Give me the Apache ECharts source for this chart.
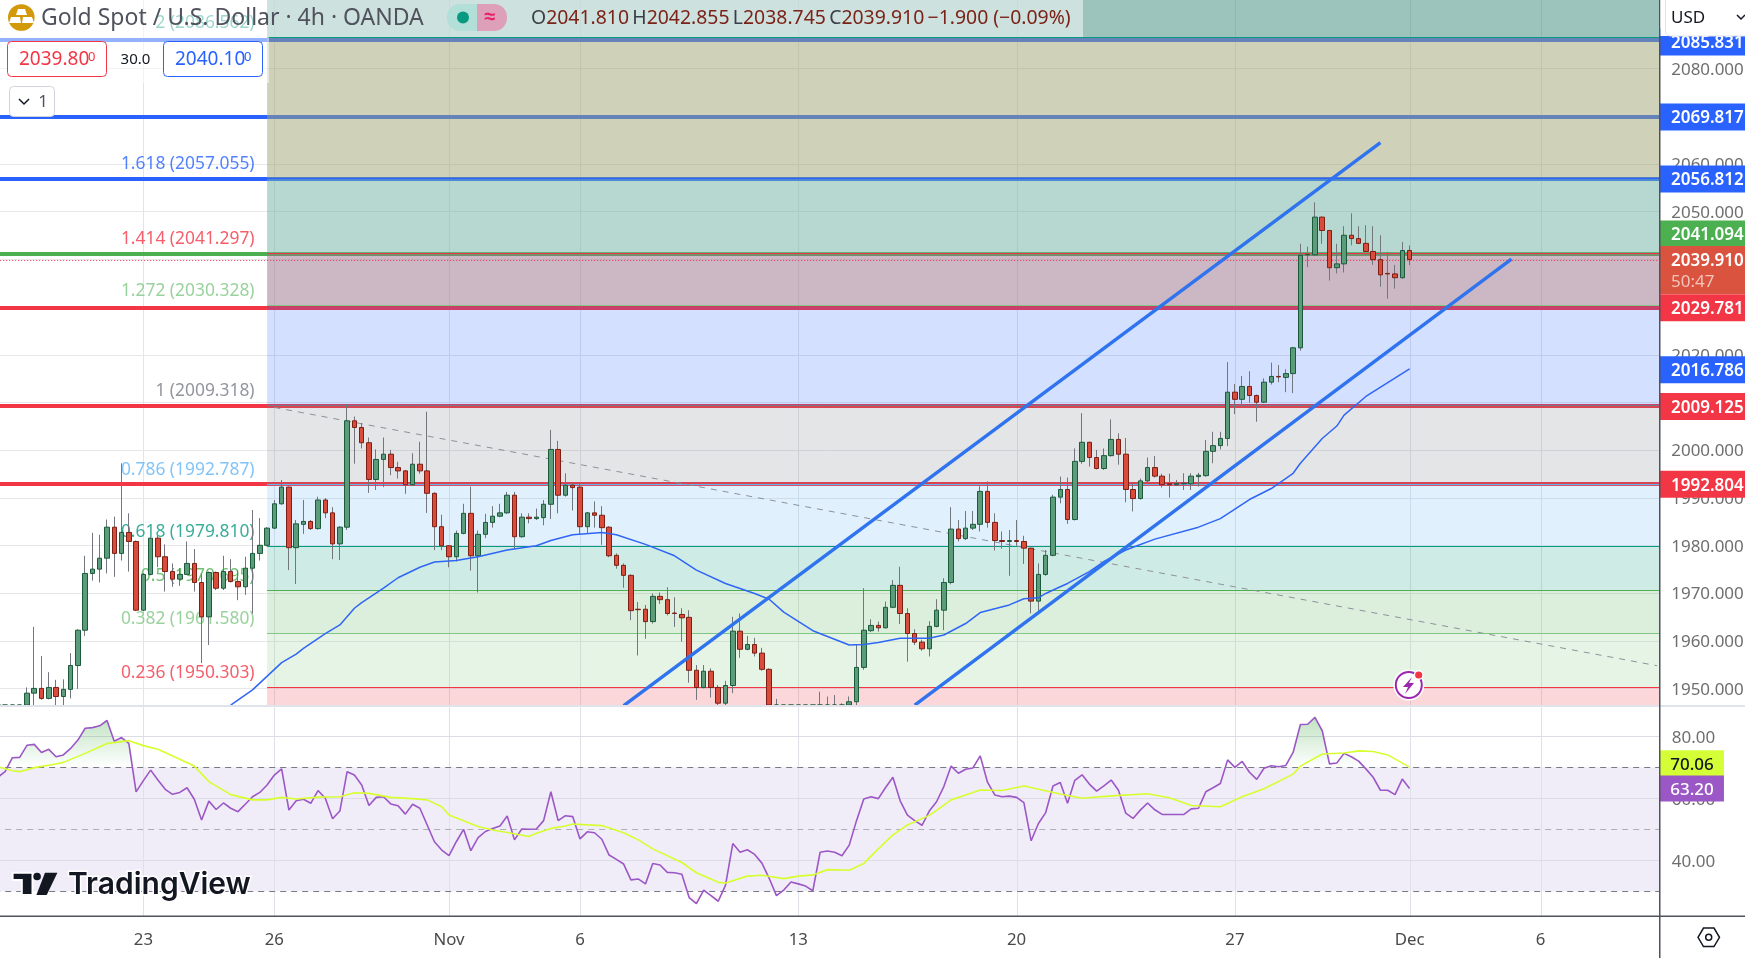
<!DOCTYPE html>
<html>
<head>
<meta charset="utf-8">
<title>Gold Spot / U.S. Dollar</title>
<script src="https://cdn.jsdelivr.net/npm/echarts@6/dist/echarts.min.js"></script>
<style>
html, body { margin: 0; padding: 0; background: #fff; overflow: hidden; }
/* the first bars sit left of the window, so the canvas starts off screen */
#main { width: 1765px; height: 958px; margin-left: -20px; }
</style>
</head>
<body>
<div id="main"></div>
<script>
const barCount = 229;
const tickIdx = [20, 38, 62, 80, 110, 140, 170, 194, 212];
const tickLabels = ['23', '26', 'Nov', '6', '13', '20', '27', 'Dec', '6'];
const priceTicks = [2080, 2060, 2050, 2020, 2000, 1990, 1980, 1970, 1960, 1950];
const priceGrid = [2080, 2070, 2060, 2050, 2040, 2030, 2020, 2010, 2000, 1990, 1980, 1970, 1960, 1950];
const rsiTicks = [80, 60, 40];

const open = [
  1943.5,1944.0,1944.8,1944.4,1945.5,1949.0,1950.0,1947.9,1950.2,1948.3,
  1949.8,1954.8,1962.2,1974.1,1975.0,1977.3,1983.8,1978.3,1982.7,1980.8,
  1966.4,1973.9,1981.5,1977.6,1974.5,1972.9,1973.9,1976.2,1972.2,1965.0,
  1974.3,1971.0,1974.5,1972.4,1971.3,1975.2,1978.3,1980.0,1983.6,1988.7,
  1992.2,1979.5,1984.4,1985.0,1983.5,1989.5,1986.8,1980.3,1983.8,2006.1,
  2004.7,2001.5,1993.8,1998.0,1999.1,1996.3,1995.6,1992.7,1997.0,1995.6,
  1990.9,1983.9,1979.9,1977.6,1982.5,1986.7,1977.8,1982.3,1984.8,1986.1,
  1986.8,1990.5,1981.8,1985.9,1985.6,1985.8,1988.6,2000.1,1990.5,1992.6,
  1992.2,1983.9,1986.8,1986.3,1983.8,1977.9,1975.8,1973.7,1966.6,1966.6,
  1964.0,1969.3,1968.6,1965.8,1965.5,1964.9,1953.8,1950.2,1953.6,1950.2,
  1946.9,1950.6,1962.0,1958.2,1959.2,1957.4,1954.0,1945.0,1944.0,1942.0,
  1943.5,1943.0,1942.5,1941.5,1945.5,1945.8,1945.6,1945.3,1947.2,1954.4,
  1962.1,1963.2,1962.7,1967.0,1971.6,1965.7,1961.5,1959.7,1958.3,1963.0,
  1966.4,1972.2,1983.4,1981.4,1983.6,1984.4,1991.3,1984.8,1981.0,1980.8,
  1981.0,1980.8,1979.4,1968.3,1973.9,1977.9,1990.1,1991.7,1985.4,1997.6,
  2001.6,1998.4,1996.1,1998.8,2002.2,1999.1,1991.7,1989.8,1993.5,1996.3,
  1994.5,1992.9,1992.7,1992.9,1992.9,1994.4,1994.6,1999.7,2000.9,2002.4,
  2012.1,2010.6,2013.3,2011.4,2010.0,2014.2,2015.4,2015.2,2016.0,2021.4,
  2040.9,2040.9,2048.8,2046.0,2038.2,2039.0,2045.0,2044.3,2043.3,2041.6,
  2039.9,2037.0,2036.9,2036.1,2041.81
];
const close = [
  1944.0,1944.8,1944.4,1945.5,1949.0,1950.0,1947.9,1950.2,1948.3,1949.8,
  1954.8,1962.2,1974.1,1975.0,1977.3,1983.8,1978.3,1982.7,1980.8,1966.4,
  1973.9,1981.5,1977.6,1974.5,1972.9,1973.9,1976.2,1972.2,1965.0,1974.3,
  1971.0,1974.5,1972.4,1971.3,1975.2,1978.3,1980.0,1983.6,1988.7,1992.2,
  1979.5,1984.5,1985.0,1983.5,1989.5,1986.8,1980.3,1983.8,2006.1,2004.7,
  2001.5,1993.8,1998.0,1999.1,1996.3,1995.6,1992.7,1997.0,1995.6,1990.9,
  1983.9,1979.9,1977.6,1982.5,1986.7,1977.8,1982.3,1984.8,1986.1,1986.8,
  1990.5,1981.8,1985.9,1985.6,1985.9,1988.6,2000.1,1990.5,1992.6,1992.1,
  1983.9,1986.8,1986.3,1983.7,1977.8,1975.8,1973.7,1966.3,1966.5,1964.0,
  1969.3,1968.6,1965.7,1965.7,1964.8,1953.8,1950.2,1953.6,1950.2,1946.9,
  1950.6,1962.0,1958.2,1959.2,1957.4,1954.0,1945.0,1944.0,1942.0,1943.5,
  1943.0,1942.5,1941.5,1945.5,1945.8,1945.6,1945.3,1947.2,1954.4,1962.2,
  1963.2,1962.7,1967.0,1971.6,1965.7,1961.5,1959.7,1958.3,1963.0,1966.4,
  1972.2,1983.4,1981.4,1983.6,1984.4,1991.3,1984.8,1981.0,1980.8,1981.0,
  1980.8,1979.4,1968.3,1973.9,1977.9,1990.1,1991.7,1985.4,1997.6,2001.6,
  1998.4,1996.1,1998.8,2002.2,1999.1,1991.7,1989.8,1993.5,1996.3,1994.5,
  1992.7,1992.7,1992.9,1993.0,1994.5,1994.7,1999.7,2000.9,2002.4,2012.1,
  2010.6,2013.3,2011.4,2010.0,2014.2,2015.4,2015.3,2016.0,2021.4,2040.8,
  2041.0,2048.8,2046.0,2038.2,2039.0,2045.0,2044.3,2043.3,2041.6,2039.9,
  2036.7,2036.9,2036.1,2041.8,2039.91
];
const high = [
  1945.0,1945.5,1945.6,1946.0,1950.2,1962.9,1956.8,1953.4,1951.8,1951.9,
  1957.4,1962.4,1977.8,1982.6,1982.2,1985.4,1986.0,1997.2,1986.7,1981.0,
  1974.2,1981.7,1982.0,1980.2,1976.2,1975.2,1980.8,1979.2,1974.1,1974.5,
  1974.5,1977.8,1977.1,1974.8,1977.6,1987.4,1985.7,1983.8,1989.5,1993.7,
  1992.3,1985.3,1989.5,1985.3,1990.2,1989.9,1988.0,1984.0,2009.6,2007.0,
  2005.6,2002.6,2000.1,2002.6,2000.0,1997.5,1995.8,1999.3,2001.7,2008.0,
  1991.1,1986.4,1980.0,1983.1,1988.7,1992.3,1983.1,1986.6,1988.2,1988.7,
  1991.2,1991.2,1986.7,1986.7,1987.7,1989.5,2004.2,2001.9,1995.1,1993.0,
  1992.9,1987.0,1989.2,1988.2,1984.0,1978.3,1976.2,1973.9,1968.1,1967.5,
  1969.9,1970.1,1971.2,1969.1,1966.8,1966.4,1954.9,1954.9,1954.2,1950.7,
  1951.6,1965.0,1965.7,1961.0,1960.6,1958.5,1954.2,1947.8,1945.0,1945.5,
  1945.0,1944.5,1943.0,1949.3,1948.3,1948.6,1946.9,1948.3,1959.1,1971.0,
  1964.5,1964.0,1968.2,1972.7,1975.5,1966.8,1962.4,1960.2,1964.1,1968.7,
  1973.1,1988.0,1985.3,1987.2,1987.2,1992.4,1993.4,1986.7,1982.9,1983.2,
  1985.3,1982.0,1979.5,1976.2,1979.0,1990.6,1994.4,1994.2,2000.3,2007.7,
  2001.7,2000.0,2000.3,2006.4,2003.5,2002.5,1992.9,1994.0,1998.4,1998.7,
  1995.0,1995.0,1993.7,1995.1,1995.1,1995.2,2002.1,2003.8,2003.8,2018.4,
  2013.8,2015.5,2016.5,2011.6,2015.0,2018.3,2017.8,2016.9,2021.6,2043.2,
  2042.6,2051.9,2048.9,2046.1,2043.2,2046.9,2049.6,2046.9,2047.1,2046.9,
  2045.0,2041.5,2038.8,2043.6,2042.855
];
const low = [
  1942.5,1943.0,1943.5,1943.8,1944.5,1946.0,1947.6,1947.7,1945.0,1945.0,
  1947.9,1949.9,1961.0,1972.6,1972.2,1974.1,1973.4,1976.8,1974.5,1966.2,
  1966.2,1973.7,1975.4,1970.3,1971.3,1971.5,1973.8,1970.3,1955.3,1959.1,
  1970.6,1970.6,1972.2,1968.5,1969.6,1965.7,1976.8,1979.8,1983.4,1988.5,
  1974.8,1971.9,1982.4,1983.2,1983.3,1985.7,1977.1,1976.9,1983.2,1997.1,
  2000.3,1991.0,1991.6,1992.2,1994.7,1994.0,1990.8,1992.5,1995.0,1986.8,
  1979.0,1979.0,1975.4,1976.6,1982.3,1974.7,1970.1,1981.5,1983.7,1985.9,
  1986.6,1979.2,1981.6,1984.6,1985.3,1984.2,1985.5,1986.7,1990.2,1987.3,
  1982.4,1982.5,1983.7,1980.1,1977.5,1975.1,1971.1,1964.3,1956.9,1960.4,
  1963.6,1967.7,1965.3,1962.9,1959.8,1951.2,1947.6,1950.0,1948.1,1946.5,
  1946.5,1949.0,1956.4,1958.0,1956.7,1953.7,1944.0,1943.0,1941.0,1941.0,
  1942.0,1941.5,1940.5,1941.0,1945.0,1945.0,1944.5,1945.0,1946.0,1953.9,
  1961.8,1961.9,1962.6,1966.8,1963.5,1955.6,1959.1,1957.9,1956.7,1962.8,
  1962.2,1971.8,1980.8,1981.1,1983.2,1982.9,1983.7,1978.9,1979.3,1973.6,
  1979.9,1976.1,1965.7,1965.6,1973.6,1977.7,1988.8,1984.5,1985.2,1997.1,
  1996.5,1995.9,1995.8,1998.6,1996.9,1989.0,1987.1,1989.6,1993.3,1994.2,
  1992.1,1990.0,1992.6,1991.6,1991.6,1992.3,1994.4,1997.2,2000.1,2000.8,
  2007.5,2008.9,2009.9,2005.9,2009.8,2013.7,2014.2,2012.1,2011.9,2020.8,
  2038.3,2040.7,2043.2,2035.5,2037.0,2037.2,2042.9,2043.2,2041.5,2038.8,
  2034.2,2031.7,2033.8,2035.9,2038.745
];

// moving average over price, read at the bends of the line
const maIdx = [32,35,39,41,42,45,47,49,50,53,55,58,60,63,66,70,74,76,79,83,85,89,93,96,100,104,106,108,112,117,119,121,124,128,130,133,135,139,141,143,144,146,147,150,152,155,156,159,165,168,172,175,178,179,182,184,185,188,191,194];
const maVal = [1946.5,1949.7,1955.4,1957.2,1958.4,1961.5,1963.3,1966.8,1968.0,1971.0,1973.2,1975.4,1976.5,1976.8,1977.6,1979.0,1979.9,1981.0,1982.2,1982.7,1982.2,1980.2,1977.8,1974.8,1972.0,1969.9,1968.7,1966.0,1962.1,1959.1,1959.2,1959.6,1960.5,1960.5,1961.2,1963.6,1965.9,1967.5,1968.8,1969.0,1969.9,1971.3,1972.0,1974.5,1976.6,1979.0,1979.6,1981.3,1983.8,1985.6,1989.6,1991.9,1995.1,1997.2,2002.4,2005.0,2007.3,2011.2,2014.1,2017.0];

const rsiVals = [
  66.8,68.6,73.1,73.2,77.1,77.4,74.8,75.8,73.4,74.0,
  76.1,78.8,82.6,82.8,83.4,85.1,78.4,79.6,77.7,62.1,
  65.7,69.1,65.9,62.9,61.3,61.9,63.4,59.7,53.0,59.1,
  56.4,58.5,56.8,55.7,58.1,60.5,61.9,64.3,67.5,69.5,
  56.2,59.2,59.7,58.4,62.5,60.0,53.4,55.9,68.6,67.5,
  64.3,57.7,60.3,60.5,58.2,57.6,54.9,58.1,56.8,51.4,
  46.0,43.3,41.5,46.0,50.0,43.1,47.3,49.3,50.3,51.1,
  54.3,46.6,50.1,50.0,50.1,52.8,62.1,52.8,54.4,54.1,
  46.9,49.2,48.9,46.8,41.7,40.3,38.8,33.7,34.0,32.4,
  39.0,38.5,36.1,36.0,35.5,28.0,26.0,30.4,28.6,26.8,
  32.0,45.4,42.6,43.4,41.9,39.1,34.2,28.6,30.4,33.0,
  32.4,31.7,30.2,42.6,43.0,42.6,41.5,44.9,52.8,59.8,
  60.5,59.9,63.5,66.8,59.2,54.6,52.8,51.3,55.9,58.9,
  63.8,70.4,68.1,69.4,69.8,73.7,65.2,61.1,60.5,60.7,
  60.3,58.6,46.3,51.9,55.4,64.0,65.1,58.4,65.8,67.6,
  64.6,62.3,64.0,65.9,62.6,55.2,53.5,56.2,58.5,56.3,
  54.8,54.8,54.8,54.8,56.6,56.8,62.1,63.4,64.8,72.4,
  70.0,71.9,68.4,66.1,69.7,70.5,70.2,70.6,74.8,83.8,
  83.9,86.1,81.8,71.1,71.4,74.5,73.4,72.0,69.5,66.8,
  62.6,62.6,61.2,66.2,63.2
];
const rsiMaIdx = [0,2,3,5,8,9,12,15,18,20,22,25,27,29,32,35,37,39,41,44,47,49,51,54,57,59,61,62,66,68,70,73,74,76,78,79,83,86,88,90,94,96,99,100,103,105,108,110,112,114,117,119,121,123,125,128,129,131,133,135,138,141,146,149,153,158,161,164,168,171,174,178,179,182,185,187,189,191,194];
const rsiMaVal = [70.2,68.9,68.6,69.9,71.1,71.6,74.5,77.7,78.6,77.0,75.8,72.6,70.4,65.4,61.2,59.5,59.5,60.3,59.8,60.4,60.5,61.8,61.6,60.3,59.9,59.5,57.3,54.6,50.9,49.8,49.0,47.7,48.7,50.3,51.1,51.7,51.2,48.9,46.6,43.7,39.3,36.0,32.9,32.7,34.9,35.2,34.1,34.9,35.3,37.0,36.8,39.0,43.7,48.2,51.4,54.5,56.1,59.5,61.1,62.7,62.5,64.0,61.4,60.0,60.8,61.5,60.2,57.7,57.3,60.5,63.1,67.8,70.4,74.3,74.6,75.3,75.1,74.0,70.06];

// fib retracement levels, top to bottom
const fibRatios = ['2', '1.618', '1.414', '1.272', '1', '0.786', '0.618', '0.5', '0.382', '0.236'];
const fibLevels = [2086.562, 2057.055, 2041.297, 2030.328, 2009.318, 1992.787, 1979.81, 1970.695, 1961.58, 1950.303];
const fibColors = ['#089981', '#2962ff', '#f23645', '#81c784', '#787b86', '#64b5f6', '#089981', '#4caf50', '#81c784', '#f23645'];
const zoneColors = ['rgba(57,137,123,.5)', 'rgba(161,163,115,.5)', 'rgba(111,175,163,.5)', 'rgba(153,113,137,.5)', 'rgba(41,98,255,.2)', 'rgba(120,123,134,.2)', 'rgba(100,181,246,.2)', 'rgba(8,153,129,.2)', 'rgba(76,175,80,.2)', 'rgba(129,199,132,.2)', 'rgba(242,54,69,.2)'];

const blueLines = [2085.831, 2069.817, 2056.812];
const redLines = [2029.781, 2009.125, 1992.804];
const greenLine = 2041.094;
const lastPrice = 2039.91;
const indicatorMa = 2016.786;

const PRICE_MAX = 2094.32, PRICE_MIN = 1946.52;
const RSI_MAX = 89.46, RSI_MIN = 22.04;
const ZONE_START = 37;
const OFF = 20;
const PLOT_RIGHT = 1659 + OFF;

const categories = Array.from({ length: barCount }, (_, i) => {
  const t = tickIdx.indexOf(i);
  return t >= 0 ? tickLabels[t] : String(i);
});

const candleUp = { fill: '#5c9c7b', border: '#1c5a3c' };
const candleDown = { fill: '#d94b3a', border: '#7d1f14' };
const FONT = '"Noto Sans", sans-serif';

// candles run below the visible price range in a few places, keep them on the pane
const inPane = v => Math.max(v, PRICE_MIN);

// horizontal rule over a grid, starts at the data index given in the first column
function hLines(xIdx, values, colors, width, dash, z, fromLeft) {
  return {
    type: 'custom', xAxisIndex: xIdx, yAxisIndex: xIdx, z: z, silent: true, clip: true,
    data: values.map(v => [fromLeft ? 0 : ZONE_START, v]),
    renderItem: (params, api) => {
      const cs = params.coordSys;
      const p = api.coord([api.value(0), api.value(1)]);
      const y = width % 2 ? Math.round(p[1]) + 0.5 : Math.round(p[1]);
      return {
        type: 'line',
        shape: { x1: fromLeft ? cs.x : p[0], y1: y, x2: PLOT_RIGHT, y2: y },
        style: { stroke: Array.isArray(colors) ? colors[params.dataIndex] : colors, lineWidth: width, lineDash: dash }
      };
    }
  };
}

function vLines(xIdx, z, color) {
  return {
    type: 'custom', xAxisIndex: xIdx, yAxisIndex: xIdx, z: z, silent: true,
    data: tickIdx.map(i => [i, xIdx === 0 ? PRICE_MIN : RSI_MIN]),
    renderItem: (params, api) => {
      const cs = params.coordSys;
      const x = Math.round(api.coord([api.value(0), api.value(1)])[0]) + 0.5;
      return { type: 'line', shape: { x1: x, y1: cs.y, x2: x, y2: cs.y + cs.height }, style: { stroke: color, lineWidth: 1 } };
    }
  };
}

function bands(xIdx, rows, colors, z, fromLeft) {
  return {
    type: 'custom', xAxisIndex: xIdx, yAxisIndex: xIdx, z: z, silent: true, clip: true,
    data: rows.map(r => [fromLeft ? 0 : ZONE_START, r[0], r[1]]),
    renderItem: (params, api) => {
      const cs = params.coordSys;
      const a = api.coord([api.value(0), api.value(1)]);
      const b = api.coord([api.value(0), api.value(2)]);
      const x = fromLeft ? cs.x : a[0];
      return { type: 'rect', shape: { x: x, y: a[1], width: PLOT_RIGHT - x, height: b[1] - a[1] }, style: { fill: colors[params.dataIndex] } };
    }
  };
}

// tick labels of a right hand scale, written as labels on the scale's own grid
function scaleLabels(idx, ticks, digits) {
  return {
    type: 'scatter', xAxisIndex: idx, yAxisIndex: idx, z: 9, silent: true, symbolSize: 1, itemStyle: { color: 'transparent' },
    data: ticks.map(v => [0.5, v]),
    label: {
      show: true, position: 'inside', color: '#4a4a4a', fontSize: 17, fontFamily: FONT,
      formatter: p => p.value[1].toFixed(digits)
    },
    labelLayout: { dx: digits === 3 ? 5 : -9, dy: 1.5, hideOverlap: false }
  };
}

const zoneEdges = [PRICE_MAX].concat(fibLevels, [PRICE_MIN]);
const zoneRows = zoneColors.map((c, i) => [zoneEdges[i], zoneEdges[i + 1]]);

// price tags on the right hand scale
const tagPrices = [blueLines[0], blueLines[1], blueLines[2], greenLine, redLines[0], indicatorMa, redLines[1], redLines[2], lastPrice];
const tagColors = ['#2962ff', '#2962ff', '#2962ff', '#4caf50', '#f23645', '#2962ff', '#f23645', '#f23645', '#d9533f'];
const tagLift = [1.5, 0, 0, -20, 0, 0, 0, 0, 10.5];

const ui = [
  // legend backdrops
  { type: 'rect', z: 50, shape: { x: 0, y: 0, width: 1083, height: 37 }, style: { fill: 'rgba(255,255,255,.5)' } },
  { type: 'rect', z: 50, shape: { x: 0, y: 37, width: 269, height: 46 }, style: { fill: 'rgba(255,255,255,.5)' } },
  // symbol logo
  { type: 'circle', z: 51, shape: { cx: 21.3, cy: 17.5, r: 13.3 }, style: { fill: '#d29a0b' } },
  { type: 'polygon', z: 52, shape: { points: [[18, 9], [25, 9], [27, 15], [16, 15]] }, style: { fill: '#fff' } },
  { type: 'polygon', z: 52, shape: { points: [[11, 17], [20, 17], [21, 23], [9, 23]] }, style: { fill: '#fff' } },
  { type: 'polygon', z: 52, shape: { points: [[23, 17], [32, 17], [34, 23], [22, 23]] }, style: { fill: '#fff' } },
  { type: 'text', z: 51, x: 41, y: 18, style: { text: 'Gold Spot / U.S. Dollar · 4h · OANDA', font: '23px ' + FONT, fill: '#50535e', textVerticalAlign: 'middle' } },
  // market status pills
  { type: 'rect', z: 51, shape: { x: 447, y: 4, width: 30, height: 27, r: [13, 0, 0, 13] }, style: { fill: '#b2dfd8' } },
  { type: 'rect', z: 51, shape: { x: 477, y: 4, width: 30, height: 27, r: [0, 13, 13, 0] }, style: { fill: '#dda0b8' } },
  { type: 'circle', z: 52, shape: { cx: 463, cy: 17.5, r: 6 }, style: { fill: '#089981' } },
  { type: 'text', z: 52, x: 490, y: 17, style: { text: '≈', font: 'bold 20px ' + FONT, fill: '#e91e63', textAlign: 'center', textVerticalAlign: 'middle' } },
  // OHLC
  { type: 'text', z: 51, x: 531, y: 18, style: {
      text: '{l|O}{v|2041.810} {l|H}{v|2042.855} {l|L}{v|2038.745} {l|C}{v|2039.910} {v|−1.900 (−0.09%)}',
      textVerticalAlign: 'middle',
      rich: { l: { font: '19.4px ' + FONT, fill: '#3b3e46' }, v: { font: '19.4px ' + FONT, fill: '#7b2318' } } } },
  // bid, spread, ask
  { type: 'rect', z: 51, shape: { x: 7.5, y: 41.5, width: 99, height: 35, r: 4 }, style: { fill: '#fff', stroke: '#f23645', lineWidth: 1 } },
  { type: 'text', z: 52, x: 19, y: 60, style: { text: '2039.80', font: '19px ' + FONT, fill: '#f23645', textVerticalAlign: 'middle' } },
  { type: 'text', z: 52, x: 88, y: 57, style: { text: '0', font: '13px ' + FONT, fill: '#f23645', textVerticalAlign: 'middle' } },
  { type: 'text', z: 52, x: 135.5, y: 60, style: { text: '30.0', font: '15px ' + FONT, fill: '#131722', textAlign: 'center', textVerticalAlign: 'middle' } },
  { type: 'rect', z: 51, shape: { x: 163.5, y: 41.5, width: 99, height: 35, r: 4 }, style: { fill: '#fff', stroke: '#2962ff', lineWidth: 1 } },
  { type: 'text', z: 52, x: 175, y: 60, style: { text: '2040.10', font: '19px ' + FONT, fill: '#2962ff', textVerticalAlign: 'middle' } },
  { type: 'text', z: 52, x: 244, y: 57, style: { text: '0', font: '13px ' + FONT, fill: '#2962ff', textVerticalAlign: 'middle' } },
  { type: 'rect', z: 51, shape: { x: 9.5, y: 86.5, width: 45, height: 30, r: 4 }, style: { fill: '#fff', stroke: '#d1d4dc', lineWidth: 1 } },
  { type: 'polyline', z: 52, shape: { points: [[19, 99], [24, 104], [29, 99]] }, style: { fill: 'none', stroke: '#131722', lineWidth: 1.5 } },
  { type: 'text', z: 52, x: 43, y: 102, style: { text: '1', font: '17px ' + FONT, fill: '#50535e', textAlign: 'center', textVerticalAlign: 'middle' } },
  // scale edges
  { type: 'rect', z: 53, shape: { x: 0, y: 705, width: 1745, height: 2 }, style: { fill: '#e0e3eb' } },
  { type: 'rect', z: 53, shape: { x: 0, y: 915.5, width: 1745, height: 1.5 }, style: { fill: '#50535e' } },
  { type: 'rect', z: 53, shape: { x: 1659, y: 0, width: 1.5, height: 958 }, style: { fill: '#50535e' } },
  // currency box
  { type: 'rect', z: 54, shape: { x: 1660.5, y: -2, width: 84.5, height: 38 }, style: { fill: '#fff' } },
  { type: 'rect', z: 55, shape: { x: 1665.5, y: -4, width: 90, height: 40, r: 5 }, style: { fill: '#fff', stroke: '#e0e3eb', lineWidth: 1 } },
  { type: 'text', z: 56, x: 1671, y: 18, style: { text: 'USD', font: '17px ' + FONT, fill: '#131722', textVerticalAlign: 'middle' } },
  { type: 'polyline', z: 56, shape: { points: [[1737, 15], [1741, 19], [1745, 15]] }, style: { fill: 'none', stroke: '#131722', lineWidth: 1.5 } },
  // watermark
  { type: 'polygon', z: 60, shape: { points: [[12.6, 872.7], [32.5, 872.7], [32.5, 895], [21.8, 895], [21.8, 880], [12.6, 880]] }, style: { fill: '#131722', stroke: '#fff', lineWidth: 2 } },
  { type: 'circle', z: 60, shape: { cx: 37.1, cy: 876.5, r: 3.8 }, style: { fill: '#131722' } },
  { type: 'polygon', z: 60, shape: { points: [[45, 872.7], [57.4, 872.7], [46.7, 895], [36.4, 895]] }, style: { fill: '#131722' } },
  { type: 'text', z: 60, x: 68, y: 885, style: { text: 'TradingView', font: '600 30px Inter, ' + FONT, fill: '#131722', stroke: '#fff', lineWidth: 3, textVerticalAlign: 'middle' } },
  // news flash marker
  { type: 'circle', z: 60, shape: { cx: 1408.8, cy: 685, r: 15.5 }, style: { fill: '#fff' } },
  { type: 'circle', z: 61, shape: { cx: 1408.8, cy: 685, r: 13 }, style: { fill: '#fff', stroke: '#9c27b0', lineWidth: 2 } },
  { type: 'polygon', z: 61, shape: { points: [[1412, 677], [1403, 687], [1408, 687], [1405, 694], [1414, 683], [1409, 683]] }, style: { fill: '#9c27b0' } },
  { type: 'circle', z: 62, shape: { cx: 1418.7, cy: 675, r: 5 }, style: { fill: '#fff' } },
  { type: 'circle', z: 63, shape: { cx: 1418.7, cy: 675, r: 3.6 }, style: { fill: '#f23645' } },
  // settings
  { type: 'polygon', z: 60, shape: { points: [[1698, 937.3], [1703.5, 928], [1714, 928], [1719.5, 937.3], [1714, 946.6], [1703.5, 946.6]] }, style: { fill: '#fff', stroke: '#131722', lineWidth: 1.5 } },
  { type: 'circle', z: 61, shape: { cx: 1708.7, cy: 937.3, r: 3 }, style: { fill: '#fff', stroke: '#131722', lineWidth: 1.5 } }
];

const chart = echarts.init(document.getElementById('main'));
chart.setOption({
  animation: false,
  textStyle: { fontFamily: FONT },
  graphic: { elements: [{ type: 'group', x: OFF, y: 0, children: ui }] },
  grid: [
    { left: OFF - 5.8, width: 1666.4, top: 0, height: 705 },
    { left: OFF - 5.8, width: 1666.4, top: 707, height: 209 },
    { left: OFF + 1660, width: 85, top: 0, height: 705 },
    { left: OFF + 1660, width: 85, top: 707, height: 209 }
  ],
  xAxis: [
    { gridIndex: 0, type: 'category', data: categories, show: false },
    { gridIndex: 1, type: 'category', data: categories, axisLine: { show: false }, axisTick: { show: false },
      axisLabel: { interval: i => tickIdx.includes(i), color: '#4a4a4a', fontSize: 16.8, margin: 16, fontFamily: FONT } },
    { gridIndex: 2, type: 'value', min: 0, max: 1, show: false },
    { gridIndex: 3, type: 'value', min: 0, max: 1, show: false }
  ],
  yAxis: [
    { gridIndex: 0, type: 'value', min: PRICE_MIN, max: PRICE_MAX, show: false },
    { gridIndex: 1, type: 'value', min: RSI_MIN, max: RSI_MAX, show: false },
    { gridIndex: 2, type: 'value', min: PRICE_MIN, max: PRICE_MAX, show: false },
    { gridIndex: 3, type: 'value', min: RSI_MIN, max: RSI_MAX, show: false }
  ],
  series: [
    vLines(0, 1, '#e3e4e8'),
    hLines(0, priceGrid, '#e6e7ea', 1, null, 1, true),
    hLines(0, blueLines, '#2962ff', 4, null, 2, true),
    hLines(0, redLines, '#f23645', 4, null, 2, true),
    hLines(0, [greenLine], '#4caf50', 4, null, 2, true),
    bands(0, zoneRows, zoneColors, 3, false),
    hLines(0, fibLevels, fibColors, 1, null, 3, false),
    {
      type: 'scatter', z: 4, silent: true, symbolSize: 1, itemStyle: { color: 'transparent' },
      data: fibLevels.map((v, i) => ({ value: [ZONE_START, v], label: { color: fibColors[i] } })),
      label: {
        show: true, position: 'left', distance: 12, fontSize: 17.4, fontFamily: FONT,
        formatter: p => fibRatios[p.dataIndex] + ' (' + fibLevels[p.dataIndex].toFixed(3) + ')'
      },
      labelLayout: { dy: -14, hideOverlap: false }
    },
    hLines(0, [lastPrice], '#f23645', 1, [1, 2], 5, true),
    {
      type: 'line', z: 5, silent: true, showSymbol: false, symbol: 'none',
      data: [[38, 2008.9], [228, 1954.76]],
      lineStyle: { color: '#8d909a', width: 1, type: [6, 6] }
    },
    {
      // wicks
      type: 'candlestick', z: 6, silent: true, barWidth: 1,
      data: open.map((o, i) => [inPane(o), inPane(close[i]), inPane(low[i]), inPane(high[i])]),
      itemStyle: { color: '#74767e', color0: '#74767e', borderColor: '#74767e', borderColor0: '#74767e', borderWidth: 1 }
    },
    {
      // bodies
      type: 'candlestick', z: 7, silent: true, barWidth: 5,
      data: open.map((o, i) => [inPane(o), inPane(close[i]), inPane(Math.min(o, close[i])), inPane(Math.max(o, close[i]))]),
      itemStyle: { color: candleUp.fill, color0: candleDown.fill, borderColor: candleUp.border, borderColor0: candleDown.border, borderWidth: 1 }
    },
    {
      type: 'line', z: 8, silent: true, showSymbol: false, symbol: 'none',
      data: maIdx.map((x, i) => [x, maVal[i]]),
      lineStyle: { color: '#2f66f5', width: 1.5 }
    },
    {
      type: 'line', z: 9, silent: true, showSymbol: false, symbol: 'none',
      data: [[86, 1946.4], [190, 2064.4]],
      lineStyle: { color: '#2f74ee', width: 3.4 }
    },
    {
      type: 'line', z: 9, silent: true, showSymbol: false, symbol: 'none',
      data: [[126, 1946.5], [208, 2040.0]],
      lineStyle: { color: '#2f74ee', width: 3.4 }
    },

    // RSI pane
    bands(1, [[70, 30]], ['rgba(126,87,194,.11)'], 1, true),
    vLines(1, 2, '#e0e1e8'),
    hLines(1, rsiTicks, '#dcdce6', 1, null, 2, true),
    hLines(1, [70, 30], '#787b86', 1, [6, 5], 3, true),
    hLines(1, [50], '#adaeb6', 1, [6, 5], 3, true),
    {
      type: 'line', xAxisIndex: 1, yAxisIndex: 1, z: 4, silent: true, showSymbol: false, symbol: 'none',
      data: rsiVals.map(v => Math.max(v, 70)),
      lineStyle: { width: 0 },
      areaStyle: {
        origin: 70,
        color: new echarts.graphic.LinearGradient(0, 0, 0, 1, [
          { offset: 0, color: 'rgba(76,175,80,.5)' }, { offset: 1, color: 'rgba(76,175,80,0)' }
        ])
      }
    },
    {
      type: 'line', xAxisIndex: 1, yAxisIndex: 1, z: 4, silent: true, showSymbol: false, symbol: 'none',
      data: rsiVals.map(v => Math.min(v, 30)),
      lineStyle: { width: 0 },
      areaStyle: {
        origin: 30,
        color: new echarts.graphic.LinearGradient(0, 0, 0, 1, [
          { offset: 0, color: 'rgba(242,54,69,0)' }, { offset: 1, color: 'rgba(242,54,69,.15)' }
        ])
      }
    },
    {
      type: 'line', xAxisIndex: 1, yAxisIndex: 1, z: 5, silent: true, showSymbol: false, symbol: 'none',
      data: rsiVals,
      lineStyle: { color: '#9c57c6', width: 1.6 }
    },
    {
      type: 'line', xAxisIndex: 1, yAxisIndex: 1, z: 6, silent: true, showSymbol: false, symbol: 'none',
      data: rsiMaIdx.map((x, i) => [x, rsiMaVal[i]]),
      lineStyle: { color: '#d6ff2e', width: 1.6 }
    },

    // right scale labels and tags
    scaleLabels(2, priceTicks, 3),
    scaleLabels(3, rsiTicks, 2),
    {
      type: 'scatter', xAxisIndex: 2, yAxisIndex: 2, z: 10, silent: true, clip: false,
      symbol: 'rect',
      data: tagPrices.map((v, i) => ({
        value: [0.5, v],
        symbolSize: [85, v === lastPrice ? 48 : 27],
        symbolOffset: [0, tagLift[i]],
        itemStyle: { color: tagColors[i], opacity: 1 }
      })),
      label: {
        show: true, position: [11, '50%'], verticalAlign: 'middle', color: '#fff', fontFamily: FONT,
        formatter: p => p.value[1] === lastPrice ? '{a|' + lastPrice.toFixed(3) + '}\n{b|50:47}' : '{a|' + p.value[1].toFixed(3) + '}',
        rich: {
          a: { fontSize: 17, fontWeight: 600, color: '#fff', lineHeight: 21, fontFamily: FONT },
          b: { fontSize: 17, color: '#f4c4ba', lineHeight: 21, fontFamily: FONT }
        }
      },
      labelLayout: { dy: 1.5, hideOverlap: false }
    },
    {
      type: 'scatter', xAxisIndex: 3, yAxisIndex: 3, z: 10, silent: true, clip: false,
      symbol: 'rect', symbolSize: [64, 26],
      data: [
        { value: [0.376, 70.06], symbolOffset: [0, -3.8], itemStyle: { color: '#d4ff36', opacity: 1 }, label: { color: '#131722' } },
        { value: [0.376, 63.2], itemStyle: { color: '#9c57c6', opacity: 1 }, label: { color: '#fff' } }
      ],
      label: { show: true, position: 'inside', fontSize: 17, fontWeight: 500, fontFamily: FONT, formatter: p => p.value[1].toFixed(2) },
      labelLayout: { dy: 1.5, hideOverlap: false }
    }
  ]
});
</script>
</body>
</html>
